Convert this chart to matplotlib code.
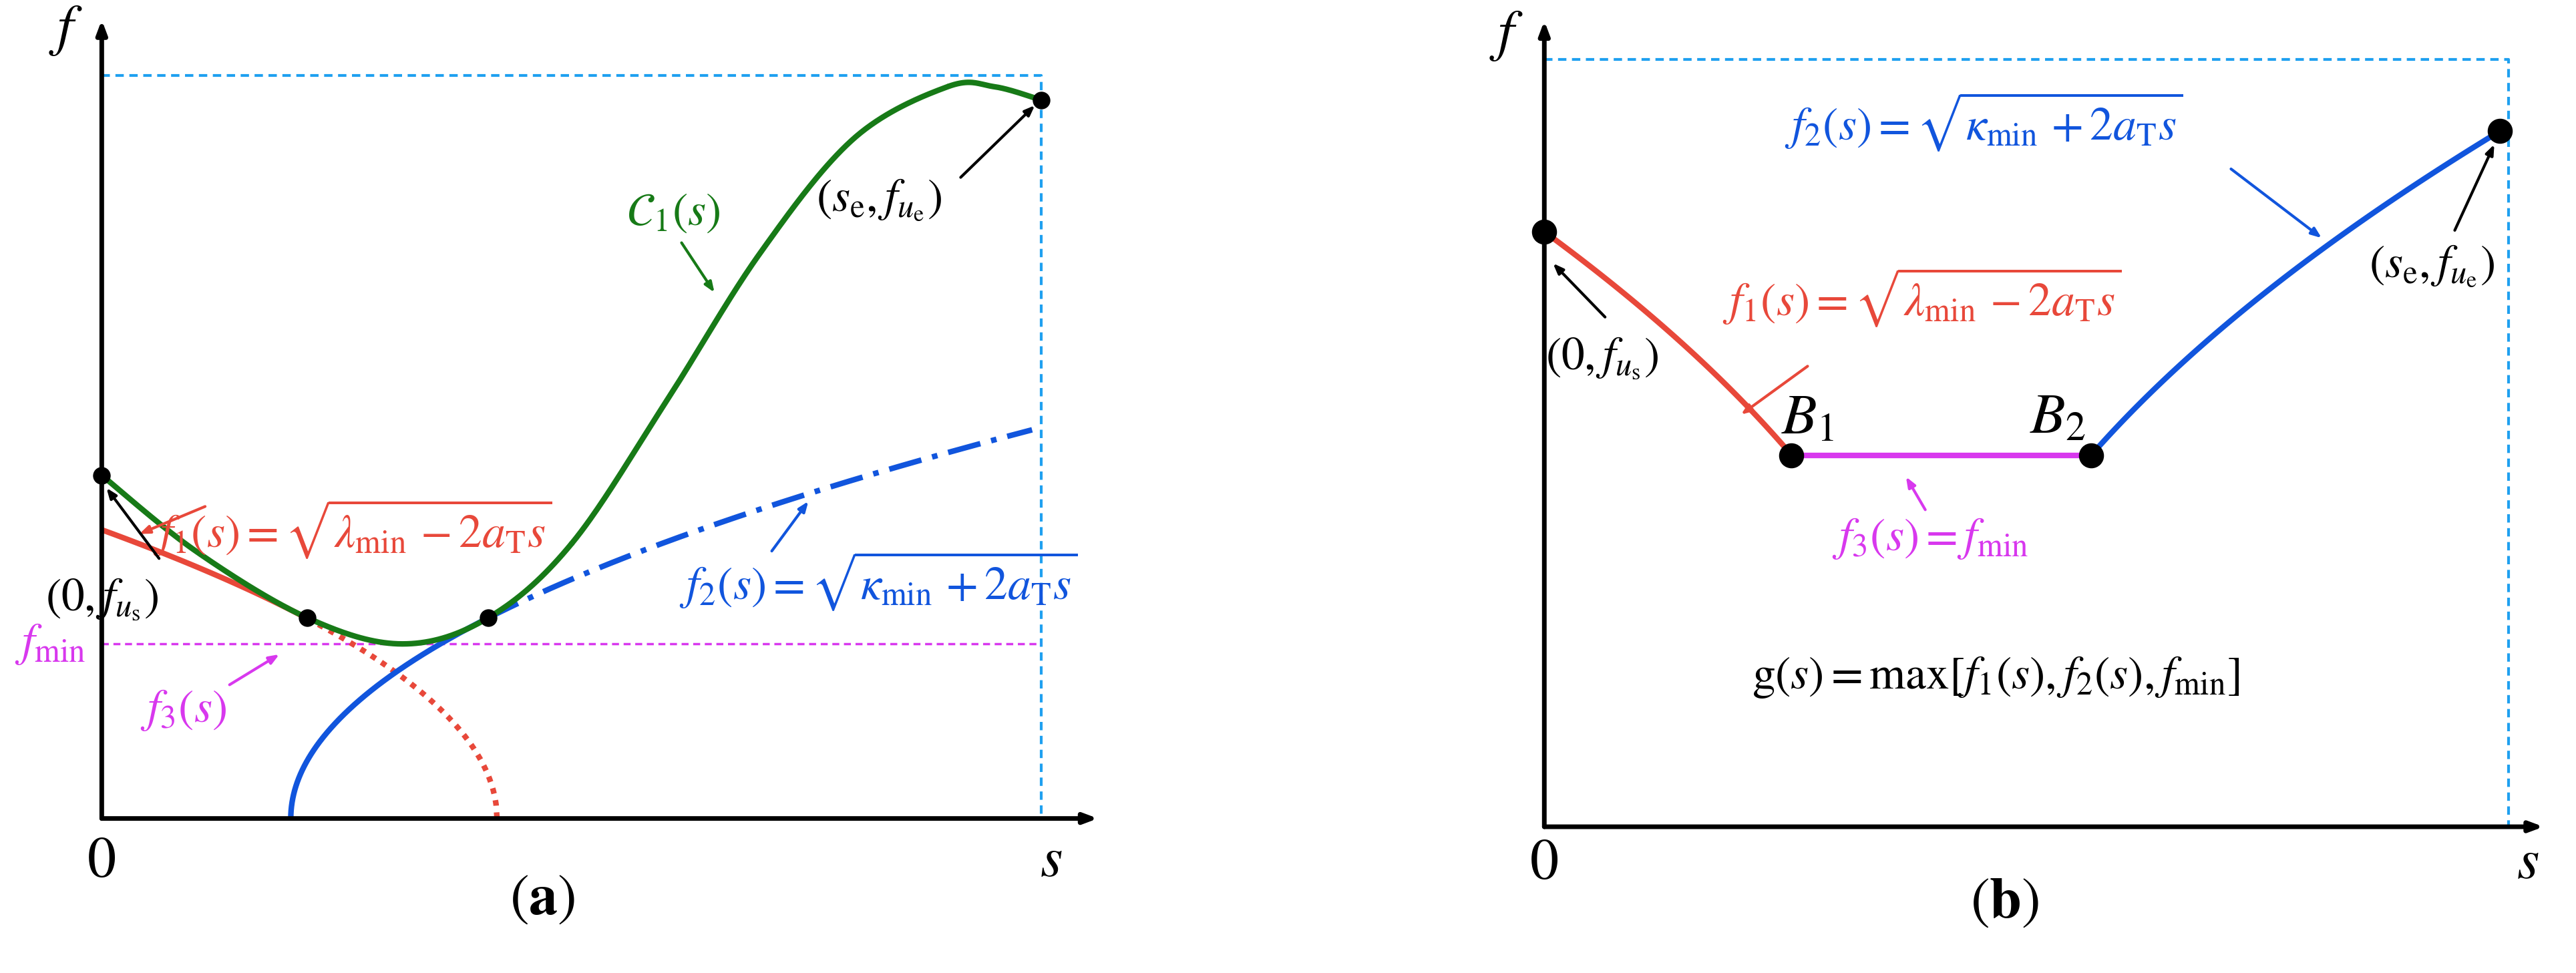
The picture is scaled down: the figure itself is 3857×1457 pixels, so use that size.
import numpy as np
import matplotlib.pyplot as plt

plt.rcParams['mathtext.fontset'] = 'stix'
plt.rcParams['font.family'] = 'STIXGeneral'

RED = '#e8483a'; GREEN = '#177a17'; BLUE = '#1155dd'; MAG = '#d838ee'; LBLUE = '#1fa0f0'

# panel (a) data
a_lam, a_2a = 15.1, 3.59          # f1 = sqrt(lam - 2a s)
a_kap, a_2a2 = -6.98, 3.47        # f2 = sqrt(kap + 2a s)
a_fmin = 2.35
a_s_b1, a_s_b2 = 2.19, 4.11
a_s_end = 9.9
c1_s = [0, 1.0, 2.19, 3.2, 4.11, 5.0, 6.0, 7.0, 8.0, 9.0, 9.5, 10.0]
c1_f = [4.62, 3.6, 2.70, 2.35, 2.70, 3.7, 5.6, 7.6, 9.15, 9.85, 9.85, 9.67]
a_end = (10.0, 9.67)

# panel (b) data
b_lam, b_2a = 60.1, 14.3
b_kap, b_2a2 = -55.1, 13.85
b_s1, b_s2, b_fmin = 2.56, 5.67, 4.84
b_s_end = 9.91

FS = 50
BIG = 62


def catmull(xs, ys, n=40):
    xs = np.r_[xs[0], xs, xs[-1]]; ys = np.r_[ys[0], ys, ys[-1]]
    ox, oy = [], []
    for i in range(1, len(xs) - 2):
        t = np.linspace(0, 1, n)
        for arr, o in ((xs, ox), (ys, oy)):
            p0, p1, p2, p3 = arr[i - 1:i + 3]
            o.extend(0.5 * (2 * p1 + (-p0 + p2) * t + (2 * p0 - 5 * p1 + 4 * p2 - p3) * t**2
                            + (-p0 + 3 * p1 - 3 * p2 + p3) * t**3))
    return np.array(ox), np.array(oy)


def axes_frame(ax, xend, yend):
    ax.set_xlim(0, 10); ax.set_ylim(0, 10); ax.axis('off')
    kw = dict(arrowstyle='-|>,head_length=1.2,head_width=0.45', lw=5, color='black', shrinkA=0, shrinkB=0)
    ax.annotate('', xy=(xend, 0), xytext=(0, 0), arrowprops=kw, annotation_clip=False)
    ax.annotate('', xy=(0, yend), xytext=(0, 0), arrowprops=kw, annotation_clip=False)
    ax.plot([0, 10, 10], [10, 10, 0], ls=(0, (3, 2)), color=LBLUE, lw=3, clip_on=False)


def arrow(ax, start, end, color):
    ax.annotate('', xy=end, xytext=start, annotation_clip=False,
                arrowprops=dict(arrowstyle='-|>,head_length=0.9,head_width=0.35', lw=3, color=color,
                                shrinkA=0, shrinkB=0))


fig = plt.figure(figsize=(38.57, 14.57), dpi=100)

# ---- panel (a)
ax = fig.add_axes([0.0395, 0.1588, 0.3648, 0.7635])
axes_frame(ax, 10.6, 10.75)
ax.plot([0, 10], [a_fmin, a_fmin], ls=(0, (3, 2)), color=MAG, lw=2.5)
s = np.linspace(0, a_s_b1, 100)
ax.plot(s, np.sqrt(a_lam - a_2a * s), color=RED, lw=6)
s = np.linspace(a_s_b1, a_lam / a_2a, 200)
ax.plot(s, np.sqrt(np.clip(a_lam - a_2a * s, 0, None)), color=RED, lw=6, ls=(0, (1, 1.2)))
s0 = -a_kap / a_2a2
s = s0 + np.linspace(0, 1, 300)**2 * (a_s_b2 - s0)
ax.plot(s, np.sqrt(np.clip(a_kap + a_2a2 * s, 0, None)), color=BLUE, lw=6)
s = np.linspace(a_s_b2, a_s_end, 200)
ax.plot(s, np.sqrt(a_kap + a_2a2 * s), color=BLUE, lw=6, ls=(0, (6, 2, 1, 2)))
cx, cy = catmull(c1_s, c1_f)
ax.plot(cx, cy, color=GREEN, lw=6)
ax.plot([0, a_s_b1, a_s_b2, a_end[0]], [c1_f[0], c1_f[2], c1_f[4], a_end[1]], 'o', color='black',
        ms=18, clip_on=False, zorder=5)
ax.text(-0.38, 10.6, r'$f$', fontsize=BIG, ha='center', va='center')
ax.text(0, -0.6, '0', fontsize=BIG, ha='center', va='center')
ax.text(10.1, -0.6, r'$s$', fontsize=BIG, ha='center', va='center')
ax.text(-0.55, a_fmin, r'$f_{\min}$', fontsize=FS, color=MAG, ha='center', va='center')
ax.text(6.08, 8.14, r'$\mathcal{C}_1(s)$', fontsize=FS, color=GREEN, ha='center', va='center')
arrow(ax, (6.17, 7.75), (6.52, 7.08), GREEN)
ax.text(8.27, 8.32, r'$(s_{\mathrm{e}},f_{u_{\mathrm{e}}})$', fontsize=FS, ha='center', va='center')
arrow(ax, (9.14, 8.63), (9.93, 9.6), 'black')
ax.text(2.67, 3.9, r'$f_1(s)=\sqrt{\lambda_{\min}\,-2a_{\mathrm{T}}s}$', fontsize=FS, color=RED,
        ha='center', va='center')
arrow(ax, (1.1, 4.2), (0.4, 3.83), RED)
ax.text(0.0, 2.95, r'$(0,f_{u_{\mathrm{s}}})$', fontsize=FS, ha='center', va='center')
arrow(ax, (0.61, 3.5), (0.05, 4.45), 'black')
ax.text(8.27, 3.2, r'$f_2(s)=\sqrt{\kappa_{\min}\,+2a_{\mathrm{T}}s}$', fontsize=FS, color=BLUE,
        ha='center', va='center')
arrow(ax, (7.13, 3.6), (7.52, 4.27), BLUE)
ax.text(0.87, 1.46, r'$f_3(s)$', fontsize=FS, color=MAG, ha='center', va='center')
arrow(ax, (1.36, 1.8), (1.89, 2.21), MAG)
ax.text(4.69, -1.1, r'($\mathbf{a}$)', fontsize=BIG, ha='center', va='center')

# ---- panel (b)
bx = fig.add_axes([0.5995, 0.1503, 0.3744, 0.7889])
axes_frame(bx, 10.36, 10.5)
s = np.linspace(0, b_s1, 100)
bx.plot(s, np.sqrt(b_lam - b_2a * s), color=RED, lw=6)
bx.plot([b_s1, b_s2], [b_fmin, b_fmin], color=MAG, lw=6)
s = np.linspace(b_s2, b_s_end, 100)
bx.plot(s, np.sqrt(b_kap + b_2a2 * s), color=BLUE, lw=6)
bx.plot([0, b_s1, b_s2, b_s_end], [np.sqrt(b_lam), b_fmin, b_fmin, np.sqrt(b_kap + b_2a2 * b_s_end)],
        'o', color='black', ms=26, clip_on=False, zorder=5)
bx.text(-0.39, 10.3, r'$f$', fontsize=BIG, ha='center', va='center')
bx.text(0, -0.5, '0', fontsize=BIG, ha='center', va='center')
bx.text(10.2, -0.5, r'$s$', fontsize=BIG, ha='center', va='center')
bx.text(4.56, 9.19, r'$f_2(s)=\sqrt{\kappa_{\min}\,+2a_{\mathrm{T}}s}$', fontsize=FS, color=BLUE,
        ha='center', va='center')
arrow(bx, (7.12, 8.57), (8.06, 7.67), BLUE)
bx.text(9.2, 7.3, r'$(s_{\mathrm{e}},f_{u_{\mathrm{e}}})$', fontsize=FS, ha='center', va='center')
arrow(bx, (9.44, 7.77), (9.85, 8.89), 'black')
bx.text(3.92, 6.9, r'$f_1(s)=\sqrt{\lambda_{\min}\,-2a_{\mathrm{T}}s}$', fontsize=FS, color=RED,
        ha='center', va='center')
arrow(bx, (2.73, 6.0), (2.04, 5.37), RED)
bx.text(0.6, 6.1, r'$(0,f_{u_{\mathrm{s}}})$', fontsize=FS, ha='center', va='center')
arrow(bx, (0.63, 6.64), (0.09, 7.34), 'black')
bx.text(2.73, 5.3, r'$B_1$', fontsize=BIG, ha='center', va='center')
bx.text(5.32, 5.3, r'$B_2$', fontsize=BIG, ha='center', va='center')
bx.text(4.0, 3.75, r'$f_3(s)=f_{\min}$', fontsize=FS, color=MAG, ha='center', va='center')
arrow(bx, (3.95, 4.13), (3.75, 4.56), MAG)
bx.text(4.68, 1.95, r'$\mathrm{g}(s)=\max[f_1(s),f_2(s),f_{\min}]$', fontsize=FS, ha='center', va='center')
bx.text(4.77, -1.0, r'($\mathbf{b}$)', fontsize=BIG, ha='center', va='center')

fig.savefig('out.png', dpi=100)
